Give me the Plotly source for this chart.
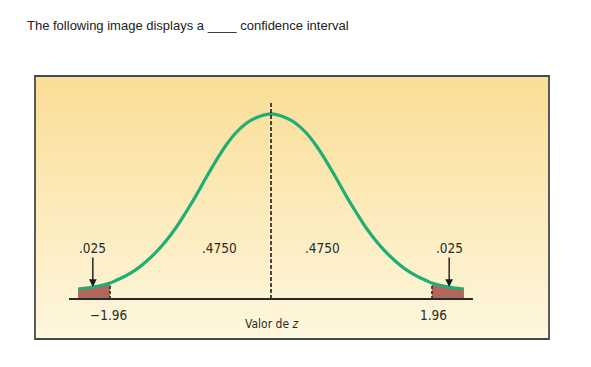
import plotly.graph_objects as go

# ---- data ----
curve_z = [-2.35, -2.13, -1.96, -1.89, -1.77, -1.64, -1.52, -1.40, -1.28, -1.16, -1.04,
           -0.91, -0.79, -0.67, -0.55, -0.43, -0.30, -0.18, 0.0,
           0.18, 0.30, 0.43, 0.55, 0.67, 0.79, 0.91, 1.04, 1.16, 1.28, 1.40,
           1.52, 1.64, 1.77, 1.89, 1.96, 2.13, 2.35]
curve_density = [0.0216, 0.027, 0.0345, 0.040, 0.050, 0.064, 0.081, 0.101, 0.125, 0.153, 0.186,
                 0.224, 0.262, 0.298, 0.331, 0.358, 0.379, 0.391, 0.399,
                 0.391, 0.379, 0.358, 0.331, 0.298, 0.262, 0.224, 0.186, 0.153, 0.125, 0.101,
                 0.081, 0.064, 0.050, 0.040, 0.0345, 0.027, 0.0216]
crit_values = [-1.96, 1.96]
crit_labels = ["\u22121.96", "1.96"]
tail_label_z = [-2.17, 2.17]
tail_labels = [".025", ".025"]
tail_arrow_tip = 0.026
center_label_z = [-0.63, 0.63]
center_labels = [".4750", ".4750"]
label_height = 0.110
center_line_top = 0.427
baseline_extent = 2.46
axis_title = "Valor de <i>z</i>"
title_text = "The following image displays a ____ confidence interval"

# ---- geometry / styling ----
W, H = 591, 367
PX_PER_Z = 82.1
CX = 271
BASE_PY = 299
K = 0.3989 / 185.0  # density per pixel
xr = [-CX / PX_PER_Z, (W - CX) / PX_PER_Z]
yr = [-(H - BASE_PY) * K, BASE_PY * K]

GREEN = "#1faf74"
BROWN = "#b2675d"
TXT = "#2a2a2a"
NARROW = "DejaVu Sans Condensed, Liberation Sans Narrow, Arial Narrow, sans-serif"

fig = go.Figure()

# tail fills
left_z = [z for z in curve_z if z <= crit_values[0]]
left_d = [d for z, d in zip(curve_z, curve_density) if z <= crit_values[0]]
right_z = [z for z in curve_z if z >= crit_values[1]]
right_d = [d for z, d in zip(curve_z, curve_density) if z >= crit_values[1]]
for zz, dd in [(left_z, left_d), (right_z, right_d)]:
    fig.add_trace(go.Scatter(x=zz, y=dd, mode="lines", fill="tozeroy",
                             fillcolor=BROWN, line=dict(color=BROWN, width=0, shape="spline"),
                             hoverinfo="skip", showlegend=False))

# dashed lines at critical values
for cz in crit_values:
    dv = curve_density[curve_z.index(cz)]
    fig.add_trace(go.Scatter(x=[cz, cz], y=[0, dv], mode="lines",
                             line=dict(color="#111111", width=1.3, dash="3px,2px"),
                             hoverinfo="skip", showlegend=False))

# normal curve
fig.add_trace(go.Scatter(x=curve_z, y=curve_density, mode="lines",
                         line=dict(color=GREEN, width=3.2, shape="spline", smoothing=1.1),
                         hoverinfo="skip", showlegend=False))

# center dashed line
fig.add_trace(go.Scatter(x=[0, 0], y=[0, center_line_top], mode="lines",
                         line=dict(color="#111111", width=1.5, dash="4px,2px"),
                         hoverinfo="skip", showlegend=False))

# baseline axis
fig.add_trace(go.Scatter(x=[-baseline_extent, baseline_extent], y=[0, 0], mode="lines",
                         line=dict(color="#2a2a2a", width=1.8),
                         hoverinfo="skip", showlegend=False))

shapes = []
# gradient background box
top_py, bot_py, left_px, right_px = 76, 339, 35, 549
c_top = (250, 221, 150)
c_bot = (254, 247, 222)
n = bot_py - top_py
for i in range(n):
    t = i / (n - 1)
    c = tuple(round(a + (b - a) * t) for a, b in zip(c_top, c_bot))
    shapes.append(dict(type="rect", xref="paper", yref="paper", layer="below",
                       x0=left_px / W, x1=right_px / W,
                       y0=1 - (top_py + i + 1) / H, y1=1 - (top_py + i) / H,
                       line=dict(width=0), fillcolor="rgb(%d,%d,%d)" % c))
shapes.append(dict(type="rect", xref="paper", yref="paper", layer="above",
                   x0=left_px / W, x1=right_px / W, y0=1 - bot_py / H, y1=1 - top_py / H,
                   line=dict(color="#4a4a4a", width=1.8), fillcolor="rgba(0,0,0,0)"))

ann = []
ann.append(dict(text=title_text, xref="paper", yref="paper", x=25 / W, y=1 - 25 / H,
                xanchor="left", yanchor="middle", showarrow=False,
                font=dict(family="Liberation Sans, Arial, sans-serif", size=13, color="#222222")))
for z, t in zip(tail_label_z, tail_labels):
    ann.append(dict(text=t, x=z, y=label_height, showarrow=False,
                    font=dict(family=NARROW, size=13.5, color=TXT)))
    ann.append(dict(text="", x=z, y=tail_arrow_tip, showarrow=True, ax=0, ay=-31,
                    arrowhead=2, arrowsize=1.1, arrowwidth=1.4, arrowcolor="#1a1a1a"))
for z, t in zip(center_label_z, center_labels):
    ann.append(dict(text=t, x=z, y=label_height, showarrow=False,
                    font=dict(family=NARROW, size=13.5, color=TXT)))
for z, t in zip(crit_values, crit_labels):
    ann.append(dict(text=t, x=z, y=-16 * K, showarrow=False,
                    xshift=(1 if z > 0 else -1) * 2,
                    font=dict(family=NARROW, size=13.5, color=TXT)))
ann.append(dict(text=axis_title, x=0, y=-25 * K, showarrow=False,
                font=dict(family=NARROW, size=12, color=TXT)))

fig.update_layout(
    width=W, height=H, margin=dict(l=0, r=0, t=0, b=0),
    paper_bgcolor="white", plot_bgcolor="rgba(0,0,0,0)",
    xaxis=dict(range=xr, visible=False, fixedrange=True),
    yaxis=dict(range=yr, visible=False, fixedrange=True),
    shapes=shapes, annotations=ann, showlegend=False,
)

fig.write_html("out.html", config={"displayModeBar": False},
               post_script="document.body.style.margin='0px';document.body.style.padding='0px';")
